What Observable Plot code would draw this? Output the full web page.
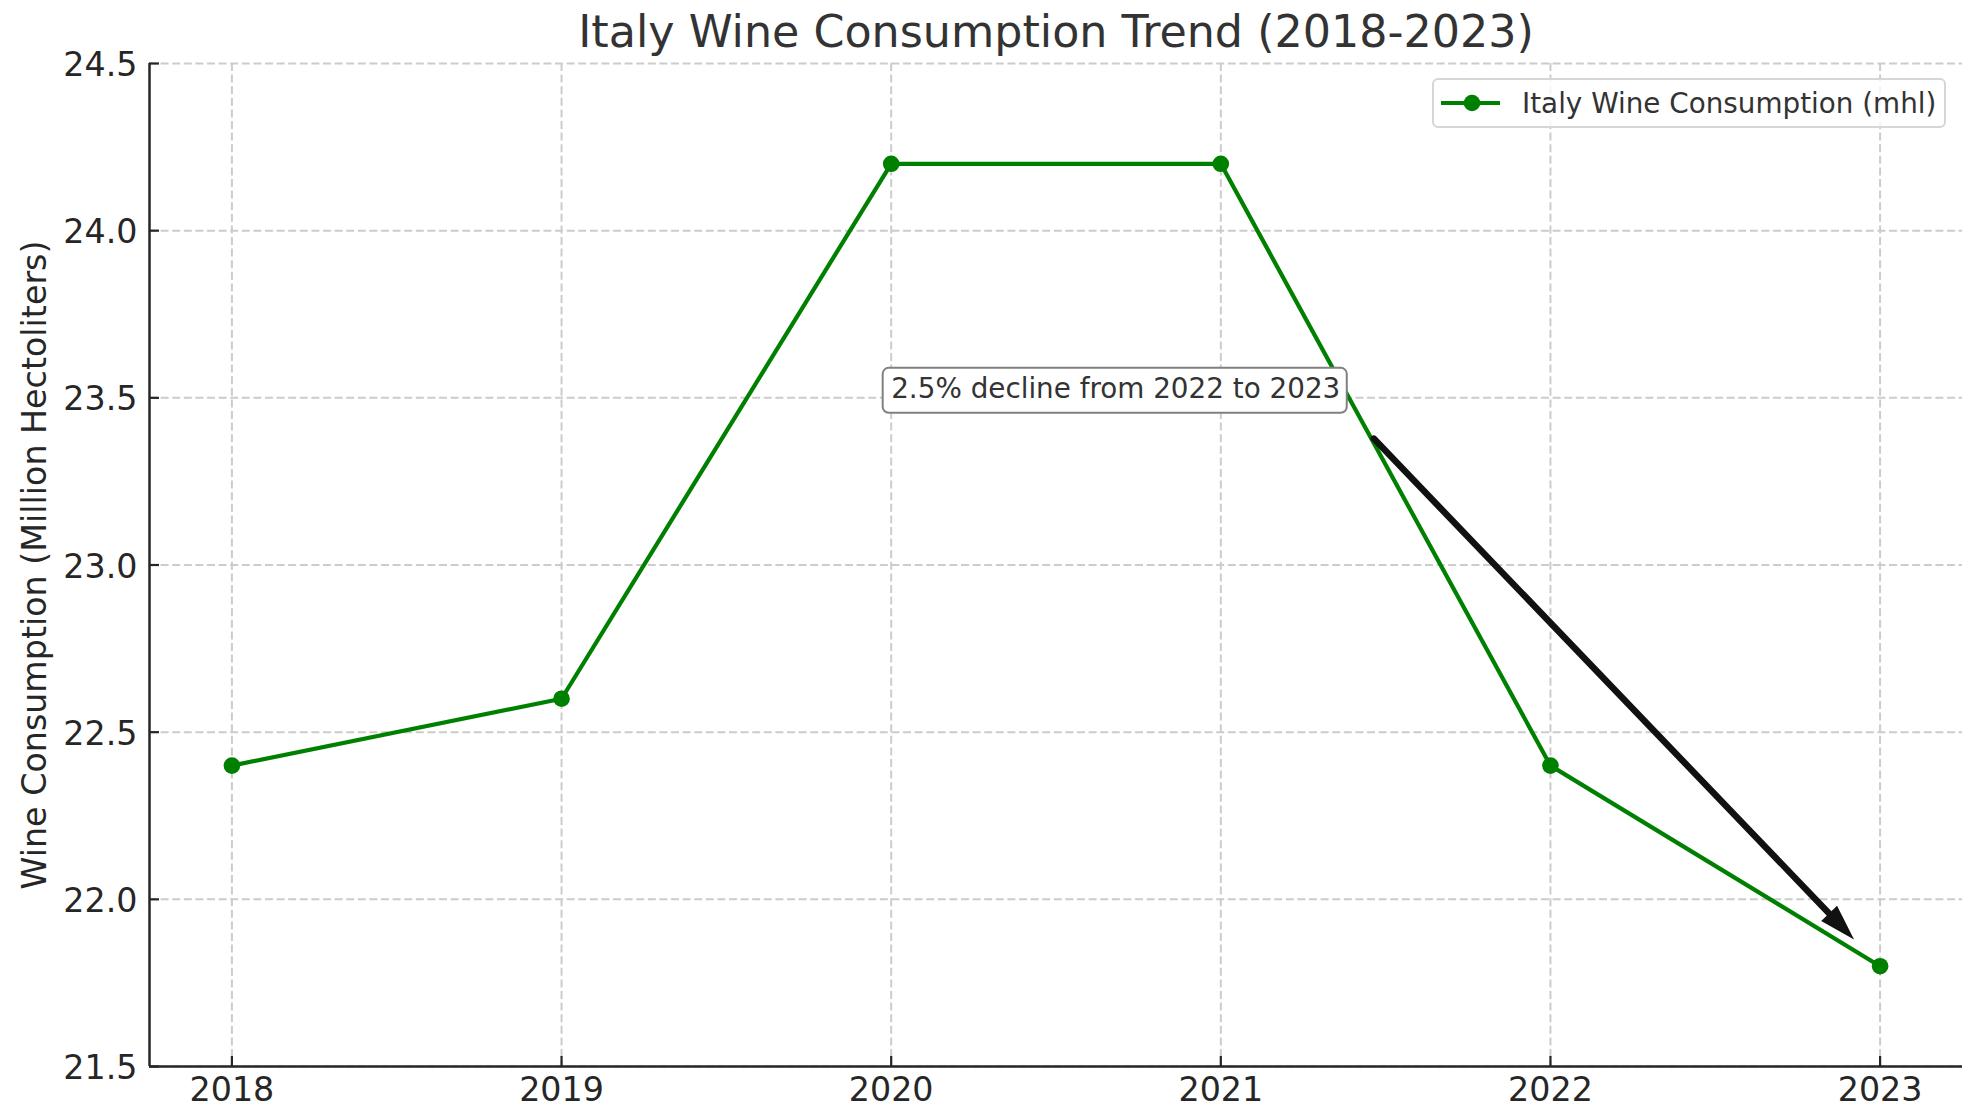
<!DOCTYPE html>
<html>
<head>
<meta charset="utf-8">
<script src="https://cdn.jsdelivr.net/npm/d3@7"></script>
<script src="https://cdn.jsdelivr.net/npm/@observablehq/plot@0.6"></script>
<style>
  html, body { margin: 0; padding: 0; background: #ffffff; overflow: hidden; }
  #wrap { position: relative; width: 1979px; height: 1113px; font-family: "DejaVu Sans", sans-serif; }
  #wrap svg { display: block; }
  #legend {
    position: absolute; left: 1432px; top: 78px; width: 510px; height: 46px;
    border: 2px solid #d6d6d6; border-radius: 6px; background: rgba(255,255,255,0.8);
    display: flex; align-items: center; font-family: "DejaVu Sans", sans-serif;
  }
  #legend span { font-size: 27.8px; color: #333333; margin-left: 8px; white-space: nowrap; }
</style>
</head>
<body>
<div id="wrap"></div>
<script>
// ---- data ----
const years = [2018, 2019, 2020, 2021, 2022, 2023];
const consumption = [22.4, 22.6, 24.2, 24.2, 22.4, 21.8];
const yTicks = [21.5, 22.0, 22.5, 23.0, 23.5, 24.0, 24.5];
const xDomain = [2017.75, 2023.25];
const yDomain = [21.5, 24.5];
const titleText = "Italy Wine Consumption Trend (2018-2023)";
const yLabelText = "Wine Consumption (Million Hectoliters)";
const seriesName = "Italy Wine Consumption (mhl)";
const noteText = ["2.5% decline from 2022 to 2023"];
const noteX = [2020];
const noteY = [23.5];
const arrowX1 = [2021.464];
const arrowY1 = [23.378];
const arrowX2 = [2022.921];
const arrowY2 = [21.88];

const data = years.map((year, i) => ({year, value: consumption[i]}));

// ---- layout ----
const W = 1979, H = 1113;
const mL = 149, mR = 17, mT = 63, mB = 47;
const frameW = W - mL - mR, frameH = H - mT - mB;
const green = "#008000";
const ink = "#262626";
const arrowInk = "#111111";
const gridStyle = {stroke: "#cccccc", strokeOpacity: 1, strokeWidth: 2, strokeDasharray: "8,3.6"};

// arrow head direction in screen space, from the same scales the plot uses
const sx = Plot.scale({x: {type: "linear", domain: xDomain, range: [mL, W - mR]}});
const sy = Plot.scale({y: {type: "linear", domain: yDomain, range: [H - mB, mT]}});
const adx = sx.apply(arrowX2[0]) - sx.apply(arrowX1[0]);
const ady = sy.apply(arrowY2[0]) - sy.apply(arrowY1[0]);
const alen = Math.hypot(adx, ady);
const ux = adx / alen, uy = ady / alen;
const headLen = 36, headHalf = 11;
const headSymbol = {
  draw(context) {
    const bx = -headLen * ux, by = -headLen * uy;
    context.moveTo(0, 0);
    context.lineTo(bx - headHalf * uy, by + headHalf * ux);
    context.lineTo(bx + headHalf * uy, by - headHalf * ux);
    context.closePath();
  }
};

const chart = Plot.plot({
  width: W, height: H,
  marginLeft: mL, marginRight: mR, marginTop: mT, marginBottom: mB,
  style: {fontFamily: "DejaVu Sans", background: "#ffffff", overflow: "visible"},
  x: {type: "linear", domain: xDomain},
  y: {type: "linear", domain: yDomain},
  marks: [
    Plot.gridX(years, gridStyle),
    Plot.gridY(yTicks, gridStyle),
    Plot.axisX(years, {tickSize: 0, tickPadding: 11, tickFormat: "d", fontSize: 33.3, color: ink, label: null}),
    Plot.axisY(yTicks, {tickSize: 0, tickPadding: 12, tickFormat: d => d.toFixed(1), fontSize: 33.3, color: ink, label: null, dy: 2}),
    Plot.tickX(years, {x: d => d, insetTop: frameH - 10, stroke: ink, strokeWidth: 2.2}),
    Plot.tickY(yTicks, {y: d => d, insetRight: frameW - 10, stroke: ink, strokeWidth: 2.2}),
    Plot.ruleX([xDomain[0]], {stroke: ink, strokeWidth: 2.5}),
    Plot.ruleY([yDomain[0]], {stroke: ink, strokeWidth: 2.5}),
    Plot.line(data, {x: "year", y: "value", stroke: green, strokeWidth: 4.2}),
    Plot.dot(data, {x: "year", y: "value", r: 8.3, fill: green, stroke: "none"}),
    // arrow shaft (stops inside the head) + filled head
    Plot.arrow([0], {
      x1: arrowX1, y1: arrowY1, x2: arrowX2, y2: arrowY2,
      stroke: arrowInk, strokeWidth: 6.5, headLength: 0, insetEnd: 28
    }),
    Plot.dot([0], {x: arrowX2, y: arrowY2, symbol: headSymbol, r: 10, fill: arrowInk, stroke: "none"}),
    Plot.text(noteText, {
      x: noteX, y: noteY, text: d => d, textAnchor: "start", lineAnchor: "bottom",
      fontSize: 27.8, fill: "#333333", className: "note-text"
    }),
    Plot.text([titleText], {
      text: d => d, frameAnchor: "top", textAnchor: "middle", lineAnchor: "middle",
      dy: -31, fontSize: 44.4, fill: "#333333"
    }),
    Plot.text([yLabelText], {
      text: d => d, frameAnchor: "left", textAnchor: "middle", lineAnchor: "bottom",
      rotate: -90, dx: -103.3, fontSize: 33.3, fill: ink
    })
  ]
});

const wrap = document.getElementById("wrap");
wrap.appendChild(chart);

// rounded box behind the annotation text
const noteG = chart.querySelector("g.note-text") || chart.querySelector(".note-text");
if (noteG) {
  const noteEl = noteG.tagName.toLowerCase() === "text" ? noteG : noteG.querySelector("text");
  const parent = noteEl.parentNode;
  const bb = noteEl.getBBox();
  const t = noteEl.transform.baseVal.consolidate();
  const tx = t ? t.matrix.e : 0, ty = t ? t.matrix.f : 0;
  const box = document.createElementNS("http://www.w3.org/2000/svg", "rect");
  box.setAttribute("x", tx + bb.x - 8.5);
  box.setAttribute("y", ty + bb.y - 4);
  box.setAttribute("width", bb.width + 15);
  box.setAttribute("height", bb.height + 12);
  box.setAttribute("rx", 6);
  box.setAttribute("fill", "#ffffff");
  box.setAttribute("stroke", "#808080");
  box.setAttribute("stroke-width", 2);
  parent.insertBefore(box, noteEl);
}

// legend
const legend = document.createElement("div");
legend.id = "legend";
const ls = d3.create("svg").attr("width", 80).attr("height", 46);
ls.append("line").attr("x1", 7).attr("x2", 66).attr("y1", 23).attr("y2", 23)
  .attr("stroke", green).attr("stroke-width", 4.2);
ls.append("circle").attr("cx", 38).attr("cy", 23).attr("r", 8.3).attr("fill", green);
legend.appendChild(ls.node());
const lt = document.createElement("span");
lt.textContent = seriesName;
legend.appendChild(lt);
wrap.appendChild(legend);
</script>
</body>
</html>
